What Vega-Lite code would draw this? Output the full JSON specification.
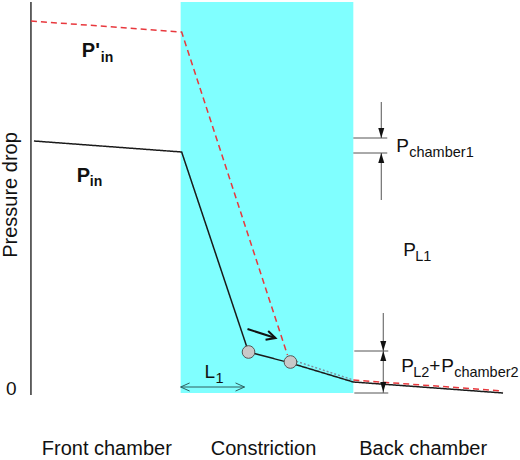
{
  "$schema": "https://vega.github.io/schema/vega-lite/v6.json",
  "width": 520,
  "height": 460,
  "padding": 0,
  "autosize": {"type": "fit", "contains": "padding"},
  "background": "white",
  "config": {
    "view": {"stroke": null},
    "font": "Liberation Sans",
    "text": {"font": "Liberation Sans"}
  },
  "datasets": {
    "constriction": [{"x0": 180, "x1": 353, "p0": 2, "p1": 393}],
    "axisLine": [{"pos": 30, "p0": 0, "p1": 393}],
    "profiles": [
      {"series": "Pin", "pos": 33, "p": 254},
      {"series": "Pin", "pos": 181, "p": 243},
      {"series": "Pin", "pos": 248, "p": 43},
      {"series": "Pin", "pos": 290, "p": 32},
      {"series": "Pin", "pos": 353, "p": 13},
      {"series": "Pin", "pos": 503, "p": 2},
      {"series": "Pin_prime", "pos": 30, "p": 374},
      {"series": "Pin_prime", "pos": 181, "p": 363},
      {"series": "Pin_prime", "pos": 287, "p": 40},
      {"series": "Pin_prime_hidden", "pos": 292, "p": 35},
      {"series": "Pin_prime_hidden", "pos": 353, "p": 15},
      {"series": "Pin_prime_back", "pos": 353, "p": 15},
      {"series": "Pin_prime_back", "pos": 503, "p": 4}
    ],
    "nodes": [
      {"pos": 248, "p": 43},
      {"pos": 290, "p": 33}
    ],
    "flow": [
      {"pos": 247, "p": 66},
      {"pos": 275, "p": 57}
    ],
    "flowTip": [{"pos": 275, "p": 57}],
    "dims": [
      {"pos": 353, "pos2": 387, "p": 257, "p2": 257},
      {"pos": 353, "pos2": 387, "p": 242, "p2": 242},
      {"pos": 354, "pos2": 388, "p": 44, "p2": 44},
      {"pos": 354, "pos2": 388, "p": 2, "p2": 2},
      {"pos": 381, "pos2": 381, "p": 293, "p2": 257},
      {"pos": 381, "pos2": 381, "p": 242, "p2": 195},
      {"pos": 383, "pos2": 383, "p": 82, "p2": 2}
    ],
    "solidHeads": [
      {"pos": 381, "p": 257, "dir": "down"},
      {"pos": 381, "p": 242, "dir": "up"},
      {"pos": 383, "p": 44, "dir": "down"},
      {"pos": 383, "p": 44, "dir": "up"},
      {"pos": 383, "p": 3, "dir": "down"}
    ],
    "lengthSpan": [{"pos": 180, "pos2": 244, "p": 8}],
    "openHeads": [
      {"pos": 180, "p": 8, "dir": "left"},
      {"pos": 244, "p": 8, "dir": "right"}
    ],
    "boldSymbols": [
      {"text": "P'", "pos": 81, "p": 338},
      {"text": "P", "pos": 76, "p": 213}
    ],
    "boldSubscripts": [
      {"text": "in", "pos": 100, "p": 333},
      {"text": "in", "pos": 89, "p": 209}
    ],
    "symbols": [
      {"text": "P", "pos": 396, "p": 243},
      {"text": "P", "pos": 403, "p": 139},
      {"text": "P", "pos": 401, "p": 23},
      {"text": "+", "pos": 429, "p": 23},
      {"text": "P", "pos": 441, "p": 23},
      {"text": "L", "pos": 204, "p": 17},
      {"text": "0", "pos": 5, "p": 0}
    ],
    "subscripts": [
      {"text": "chamber1", "pos": 409, "p": 238},
      {"text": "L1", "pos": 415, "p": 134},
      {"text": "L2", "pos": 413, "p": 18},
      {"text": "chamber2", "pos": 454, "p": 18},
      {"text": "1", "pos": 215, "p": 12}
    ],
    "regions": [
      {"text": "Front chamber", "pos": 106, "p": -60},
      {"text": "Constriction", "pos": 263, "p": -60},
      {"text": "Back chamber", "pos": 423, "p": -60}
    ],
    "axisTitle": [{"text": "Pressure drop", "pos": 16, "p": 200}]
  },
  "layer": [
    {
      "data": {"name": "constriction"},
      "mark": {"type": "rect", "color": "#80FFFF"},
      "encoding": {
        "x": {"field": "x0", "type": "quantitative", "scale": {"domain": [0, 520], "nice": false, "zero": false}, "axis": null},
        "x2": {"field": "x1"},
        "y": {"field": "p0", "type": "quantitative", "scale": {"domain": [-65, 395], "nice": false, "zero": false}, "axis": null},
        "y2": {"field": "p1"}
      }
    },
    {
      "data": {"name": "axisLine"},
      "mark": {"type": "rule", "color": "#333333", "strokeWidth": 1.5},
      "encoding": {
        "x": {"field": "pos", "type": "quantitative", "scale": {"domain": [0, 520], "nice": false, "zero": false}, "axis": null},
        "y": {"field": "p0", "type": "quantitative", "scale": {"domain": [-65, 395], "nice": false, "zero": false}, "axis": null},
        "y2": {"field": "p1"}
      }
    },
    {
      "data": {"name": "profiles"},
      "mark": {"type": "line"},
      "encoding": {
        "x": {"field": "pos", "type": "quantitative", "scale": {"domain": [0, 520], "nice": false, "zero": false}, "axis": null},
        "y": {"field": "p", "type": "quantitative", "scale": {"domain": [-65, 395], "nice": false, "zero": false}, "axis": null},
        "detail": {"field": "series"},
        "color": {
          "field": "series",
          "type": "nominal",
          "scale": {"domain": ["Pin", "Pin_prime", "Pin_prime_hidden", "Pin_prime_back"], "range": ["#1a1a1a", "#E8383D", "#7F8FA0", "#E8383D"]},
          "legend": null
        },
        "strokeDash": {
          "field": "series",
          "type": "nominal",
          "scale": {"domain": ["Pin", "Pin_prime", "Pin_prime_hidden", "Pin_prime_back"], "range": [[1, 0], [6, 4], [2, 2], [6, 4]]},
          "legend": null
        },
        "strokeWidth": {
          "field": "series",
          "type": "nominal",
          "scale": {"domain": ["Pin", "Pin_prime", "Pin_prime_hidden", "Pin_prime_back"], "range": [1.5, 1.5, 1, 1.5]},
          "legend": null
        }
      }
    },
    {
      "data": {"name": "nodes"},
      "mark": {"type": "circle", "size": 160, "fill": "#C8C8C8", "stroke": "#555555", "strokeWidth": 1, "opacity": 1},
      "encoding": {
        "x": {"field": "pos", "type": "quantitative", "scale": {"domain": [0, 520], "nice": false, "zero": false}, "axis": null},
        "y": {"field": "p", "type": "quantitative", "scale": {"domain": [-65, 395], "nice": false, "zero": false}, "axis": null}
      }
    },
    {
      "data": {"name": "flow"},
      "mark": {"type": "line", "color": "#111111", "strokeWidth": 2},
      "encoding": {
        "x": {"field": "pos", "type": "quantitative", "scale": {"domain": [0, 520], "nice": false, "zero": false}, "axis": null},
        "y": {"field": "p", "type": "quantitative", "scale": {"domain": [-65, 395], "nice": false, "zero": false}, "axis": null}
      }
    },
    {
      "data": {"name": "flowTip"},
      "mark": {"type": "point", "shape": "M-1,-0.5L0,0L-1,0.5", "angle": 17, "size": 324, "filled": false, "stroke": "#111111", "strokeWidth": 2, "opacity": 1},
      "encoding": {
        "x": {"field": "pos", "type": "quantitative", "scale": {"domain": [0, 520], "nice": false, "zero": false}, "axis": null},
        "y": {"field": "p", "type": "quantitative", "scale": {"domain": [-65, 395], "nice": false, "zero": false}, "axis": null}
      }
    },
    {
      "data": {"name": "dims"},
      "mark": {"type": "rule", "color": "#555555", "strokeWidth": 1},
      "encoding": {
        "x": {"field": "pos", "type": "quantitative", "scale": {"domain": [0, 520], "nice": false, "zero": false}, "axis": null},
        "x2": {"field": "pos2"},
        "y": {"field": "p", "type": "quantitative", "scale": {"domain": [-65, 395], "nice": false, "zero": false}, "axis": null},
        "y2": {"field": "p2"}
      }
    },
    {
      "data": {"name": "solidHeads"},
      "mark": {"type": "point", "size": 400, "filled": true, "color": "#111111", "opacity": 1},
      "encoding": {
        "x": {"field": "pos", "type": "quantitative", "scale": {"domain": [0, 520], "nice": false, "zero": false}, "axis": null},
        "y": {"field": "p", "type": "quantitative", "scale": {"domain": [-65, 395], "nice": false, "zero": false}, "axis": null},
        "shape": {
          "field": "dir",
          "type": "nominal",
          "scale": {"domain": ["down", "up", "left", "right"], "range": ["M0,0L-0.3,-1L0.3,-1Z", "M0,0L-0.3,1L0.3,1Z", "M1,-0.45L0,0L1,0.45", "M-1,-0.45L0,0L-1,0.45"]},
          "legend": null
        }
      }
    },
    {
      "data": {"name": "lengthSpan"},
      "mark": {"type": "rule", "color": "#2F5F5F", "strokeWidth": 1},
      "encoding": {
        "x": {"field": "pos", "type": "quantitative", "scale": {"domain": [0, 520], "nice": false, "zero": false}, "axis": null},
        "x2": {"field": "pos2"},
        "y": {"field": "p", "type": "quantitative", "scale": {"domain": [-65, 395], "nice": false, "zero": false}, "axis": null}
      }
    },
    {
      "data": {"name": "openHeads"},
      "mark": {"type": "point", "size": 324, "filled": false, "stroke": "#2F5F5F", "strokeWidth": 1, "opacity": 1},
      "encoding": {
        "x": {"field": "pos", "type": "quantitative", "scale": {"domain": [0, 520], "nice": false, "zero": false}, "axis": null},
        "y": {"field": "p", "type": "quantitative", "scale": {"domain": [-65, 395], "nice": false, "zero": false}, "axis": null},
        "shape": {
          "field": "dir",
          "type": "nominal",
          "scale": {"domain": ["down", "up", "left", "right"], "range": ["M0,0L-0.3,-1L0.3,-1Z", "M0,0L-0.3,1L0.3,1Z", "M1,-0.45L0,0L1,0.45", "M-1,-0.45L0,0L-1,0.45"]},
          "legend": null
        }
      }
    },
    {
      "data": {"name": "boldSymbols"},
      "mark": {"type": "text", "fontSize": 20, "fontWeight": "bold", "align": "left", "baseline": "alphabetic", "color": "#111111"},
      "encoding": {
        "x": {"field": "pos", "type": "quantitative", "scale": {"domain": [0, 520], "nice": false, "zero": false}, "axis": null},
        "y": {"field": "p", "type": "quantitative", "scale": {"domain": [-65, 395], "nice": false, "zero": false}, "axis": null},
        "text": {"field": "text"}
      }
    },
    {
      "data": {"name": "boldSubscripts"},
      "mark": {"type": "text", "fontSize": 14, "fontWeight": "bold", "align": "left", "baseline": "alphabetic", "color": "#111111"},
      "encoding": {
        "x": {"field": "pos", "type": "quantitative", "scale": {"domain": [0, 520], "nice": false, "zero": false}, "axis": null},
        "y": {"field": "p", "type": "quantitative", "scale": {"domain": [-65, 395], "nice": false, "zero": false}, "axis": null},
        "text": {"field": "text"}
      }
    },
    {
      "data": {"name": "symbols"},
      "mark": {"type": "text", "fontSize": 19, "align": "left", "baseline": "alphabetic", "color": "#111111"},
      "encoding": {
        "x": {"field": "pos", "type": "quantitative", "scale": {"domain": [0, 520], "nice": false, "zero": false}, "axis": null},
        "y": {"field": "p", "type": "quantitative", "scale": {"domain": [-65, 395], "nice": false, "zero": false}, "axis": null},
        "text": {"field": "text"}
      }
    },
    {
      "data": {"name": "subscripts"},
      "mark": {"type": "text", "fontSize": 14.5, "align": "left", "baseline": "alphabetic", "color": "#111111"},
      "encoding": {
        "x": {"field": "pos", "type": "quantitative", "scale": {"domain": [0, 520], "nice": false, "zero": false}, "axis": null},
        "y": {"field": "p", "type": "quantitative", "scale": {"domain": [-65, 395], "nice": false, "zero": false}, "axis": null},
        "text": {"field": "text"}
      }
    },
    {
      "data": {"name": "regions"},
      "mark": {"type": "text", "fontSize": 20, "align": "center", "baseline": "alphabetic", "color": "#111111"},
      "encoding": {
        "x": {"field": "pos", "type": "quantitative", "scale": {"domain": [0, 520], "nice": false, "zero": false}, "axis": null},
        "y": {"field": "p", "type": "quantitative", "scale": {"domain": [-65, 395], "nice": false, "zero": false}, "axis": null},
        "text": {"field": "text"}
      }
    },
    {
      "data": {"name": "axisTitle"},
      "mark": {"type": "text", "fontSize": 20, "angle": 270, "align": "center", "baseline": "alphabetic", "color": "#111111"},
      "encoding": {
        "x": {"field": "pos", "type": "quantitative", "scale": {"domain": [0, 520], "nice": false, "zero": false}, "axis": null},
        "y": {"field": "p", "type": "quantitative", "scale": {"domain": [-65, 395], "nice": false, "zero": false}, "axis": null},
        "text": {"field": "text"}
      }
    }
  ]
}
